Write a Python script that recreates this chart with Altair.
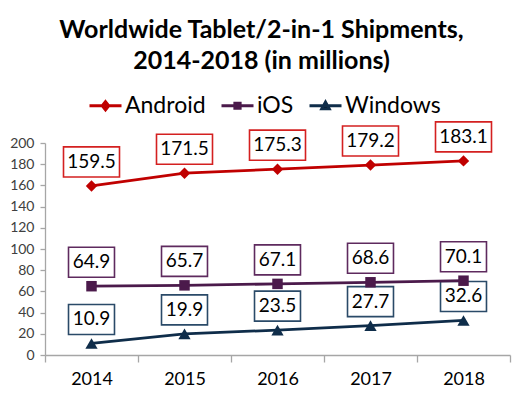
import altair as alt
import pandas as pd

years = ["2014", "2015", "2016", "2017", "2018"]
android = [159.5, 171.5, 175.3, 179.2, 183.1]
ios = [64.9, 65.7, 67.1, 68.6, 70.1]
windows = [10.9, 19.9, 23.5, 27.7, 32.6]
series = ["Android", "iOS", "Windows"]
colors = ["#C00000", "#4B1A4B", "#0F2D4A"]
box_colors = ["#D42020", "#5E2A5E", "#2A4A68"]

rows = []
for name, vals in zip(series, [android, ios, windows]):
    for y, v in zip(years, vals):
        rows.append({"year": y, "series": name, "value": v, "label": f"{v:.1f}"})
df = pd.DataFrame(rows)

FONT = "Lato"

x_enc = alt.X("year:O", title=None, scale=alt.Scale(paddingInner=0, paddingOuter=0),
              axis=alt.Axis(labelAngle=0, labelFontSize=18, labelColor="#000000", labelFont=FONT,
                            domainColor="#A6A6A6", tickColor="#A6A6A6", tickBand="extent",
                            tickSize=7, labelPadding=8, domainWidth=1.3, tickWidth=1.3))
y_enc = alt.Y("value:Q", title=None,
              scale=alt.Scale(domain=[0, 200], nice=False),
              axis=alt.Axis(values=list(range(0, 201, 20)), grid=False, labelFontSize=14,
                            labelColor="#404040", labelFont=FONT, domainColor="#A6A6A6",
                            tickColor="#A6A6A6", tickSize=5, labelPadding=6, labelOverlap=False,
                            domainWidth=1.3, tickWidth=1.3))

color_scale = alt.Scale(domain=series, range=colors)

w4, w5, hh = 46, 56, 30
def rect_path(w):
    a = w / w5
    b = hh / w5
    return f"M{-a:.3f},{-b:.3f}H{a:.3f}V{b:.3f}H{-a:.3f}Z"

base = alt.Chart(df)

boxes = base.transform_calculate(
    n="length(datum.label) > 4 ? 'five' : 'four'"
).mark_point(filled=False, fill="white", fillOpacity=1, strokeWidth=1.6, size=w5 * w5,
             yOffset=-24, opacity=1).encode(
    x=x_enc, y=y_enc,
    shape=alt.Shape("n:N", scale=alt.Scale(domain=["four", "five"],
                                           range=[rect_path(w4), rect_path(w5)]), legend=None),
    stroke=alt.Stroke("series:N", scale=alt.Scale(domain=series, range=box_colors), legend=None),
)

texts = base.mark_text(fontSize=19, font=FONT, color="#000000", yOffset=-24, baseline="middle").encode(
    x=x_enc, y=y_enc, text="label:N")

lines = base.mark_line(strokeWidth=2.8).encode(
    x=x_enc, y=y_enc,
    color=alt.Color("series:N", scale=color_scale, legend=None),
    detail="series:N")

shape_map = {"Android": "diamond", "iOS": "square", "Windows": "triangle-up"}
size_map = {"Android": 130, "iOS": 110, "Windows": 150}
pts = []
for name in series:
    pts.append(base.transform_filter(alt.datum.series == name).mark_point(
        filled=True, opacity=1, shape=shape_map[name], size=size_map[name]).encode(
        x=x_enc, y=y_enc,
        color=alt.Color("series:N", scale=color_scale, legend=None)))

legend_paths = [
    "M-1,0H1M0,-0.26L0.21,0L0,0.26L-0.21,0Z",
    "M-1,0H1M-0.17,-0.17H0.17V0.17H-0.17Z",
    "M-1,0H1M0,-0.24L0.24,0.19H-0.24Z",
]
def mk_legend():
    return alt.Legend(title=None, orient="none", direction="horizontal",
                      legendX=43, legendY=-55, labelFontSize=23, labelFont=FONT,
                      labelColor="#000000", symbolSize=1024, symbolStrokeWidth=2.8,
                      symbolOpacity=1, columnPadding=9, labelOffset=2, symbolLimit=0)

legend_layer = base.transform_filter("false").mark_point(filled=True, opacity=1).encode(
    x=x_enc, y=y_enc,
    color=alt.Color("series:N", scale=color_scale, legend=mk_legend()),
    shape=alt.Shape("series:N", scale=alt.Scale(domain=series, range=legend_paths), legend=mk_legend()),
    stroke=alt.Stroke("series:N", scale=alt.Scale(domain=series, range=colors), legend=mk_legend()),
)

chart = alt.layer(boxes, texts, lines, *pts, legend_layer).properties(
    width=465, height=212,
    padding={"left": 37, "top": 135, "right": 8, "bottom": 40},
    autosize=alt.AutoSizeParams(type="none"),
    title=alt.TitleParams(["Worldwide Tablet/2-in-1 Shipments,", "2014-2018 (in millions)"],
                          font=FONT, fontSize=25, fontWeight="bold", color="#000000",
                          anchor="middle", dx=-16, offset=14, lineHeight=31),
).configure_view(stroke=None).resolve_scale(shape="independent", stroke="independent")

chart.save("out.html", embed_options={"renderer": "svg", "actions": False})
